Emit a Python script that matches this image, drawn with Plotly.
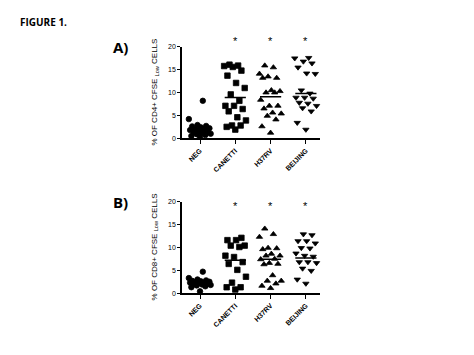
import plotly.graph_objects as go

categories = ["NEG", "CANETTI", "H37RV", "BEIJING"]
symbols = ["circle", "square", "triangle-up", "triangle-down"]

# Panel A: % of CD4+ CFSE low cells
a_neg = [8.2, 4.2, 2.9, 2.7, 2.6, 2.4, 2.2, 2.0, 2.0, 1.8, 1.6, 1.5, 1.4, 1.2, 1.0, 0.9, 0.7, 0.5, 0.3]
a_canetti = [16.1, 15.8, 15.6, 15.9, 14.8, 13.7, 12.1, 11.0, 9.6, 8.2, 7.1, 7.1, 6.4, 5.9, 4.6, 3.9, 2.8, 2.8, 2.5, 1.9]
a_h37rv = [15.9, 15.5, 13.5, 13.2, 13.2, 14.1, 10.5, 10.0, 10.0, 10.3, 8.4, 7.1, 7.1, 6.5, 5.6, 4.9, 4.1, 5.4, 2.6, 1.2]
a_beijing = [17.5, 17.6, 16.8, 16.4, 15.5, 14.1, 14.2, 10.5, 8.9, 8.7, 8.9, 9.8, 7.6, 7.8, 7.1, 6.6, 5.9, 3.4, 1.9]
a_medians = [2.0, 8.9, 9.1, 9.8]

# Panel B: % of CD8+ CFSE low cells
b_neg = [4.7, 3.3, 3.0, 2.8, 2.7, 2.6, 2.5, 2.4, 2.3, 2.3, 2.2, 2.1, 2.0, 1.9, 1.8, 1.7, 1.5, 1.3, 0.4]
b_canetti = [12.1, 11.6, 11.6, 10.4, 10.1, 10.4, 8.2, 7.9, 6.4, 6.8, 5.1, 3.6, 2.3, 1.3, 1.3, 0.8]
b_h37rv = [14.1, 12.9, 12.3, 9.6, 9.8, 9.9, 8.6, 8.2, 8.2, 7.5, 7.4, 6.4, 6.6, 6.3, 3.9, 2.7, 2.7, 2.1, 1.6, 1.1]
b_beijing = [12.7, 10.9, 11.4, 11.4, 12.9, 9.8, 9.9, 8.7, 8.0, 8.2, 6.8, 6.6, 6.8, 5.4, 4.9, 3.0, 2.1]
b_medians = [2.3, 7.2, 7.4, 7.7]

sig_a = ["", "*", "*", "*"]
sig_b = ["", "*", "*", "*"]
yticks = [0, 5, 10, 15, 20]

W, H = 474, 355
X0, X1 = 182, 320
PANELS = [(43.7, 137.0), (201.7, 295.0)]
XR = [-0.51, 3.4]
SIG_POS = [1.06, 0.955]


def spread(vals, width=0.32):
    # deterministic horizontal spread of points based on their rank
    order = sorted(range(len(vals)), key=lambda i: vals[i])
    res = [0.0] * len(vals)
    phi = 0.6180339887
    for r, i in enumerate(order):
        res[i] = ((r * phi + 0.5) % 1.0 - 0.5) * 2 * width
    return res


fig = go.Figure()

panels = [
    ([a_neg, a_canetti, a_h37rv, a_beijing], a_medians, sig_a,
     "% OF CD4+ CFSE <sub>Low</sub> CELLS", "A)"),
    ([b_neg, b_canetti, b_h37rv, b_beijing], b_medians, sig_b,
     "% OF CD8+ CFSE <sub>Low</sub> CELLS", "B)"),
]

for p, (groups, meds, sigs, ytitle, lab) in enumerate(panels):
    top, bot = PANELS[p]
    xa = "x" if p == 0 else "x2"
    ya = "y" if p == 0 else "y2"
    for g, vals in enumerate(groups):
        offs = spread(vals)
        fig.add_trace(go.Scatter(
            x=[g + o for o in offs], y=vals, mode="markers",
            marker=dict(symbol=symbols[g], size=5.5, color="black",
                        line=dict(width=0.8, color="black")),
            xaxis=xa, yaxis=ya, cliponaxis=False, showlegend=False))
        fig.add_trace(go.Scatter(
            x=[g - 0.3, g + 0.3], y=[meds[g], meds[g]], mode="lines",
            line=dict(color="black", width=1.5),
            xaxis=xa, yaxis=ya, cliponaxis=False, showlegend=False))
        if sigs[g]:
            fig.add_annotation(x=g, y=SIG_POS[p], xref=xa, yref=ya + " domain", text=sigs[g],
                               showarrow=False, xanchor="center", yanchor="middle",
                               font=dict(size=11, color="black", family="Liberation Sans"))
    # y-axis title
    fig.add_annotation(x=155 / W, y=1 - ((top + bot) / 2) / H, xref="paper", yref="paper",
                       xanchor="center", yanchor="middle",
                       text=ytitle, textangle=-90, showarrow=False,
                       font=dict(size=8, color="black", family="Liberation Sans"))
    fig.add_annotation(x=120 / W, y=1 - top / H, xref="paper", yref="paper",
                       xanchor="center", yanchor="middle",
                       text="<b>" + lab + "</b>", showarrow=False,
                       font=dict(size=15, color="black", family="Open Sans"))

fig.add_annotation(x=18 / W, y=1 - 18 / H, xref="paper", yref="paper", xanchor="left",
                   yanchor="middle",
                   text="<b>FIGURE 1.</b>", showarrow=False,
                   font=dict(size=10, color="black", family="Open Sans"))

axis_common = dict(showline=True, linecolor="black", linewidth=1.5, showgrid=False,
                   zeroline=False, ticks="outside", tickcolor="black", tickwidth=1.2)

for p in range(2):
    top, bot = PANELS[p]
    sx = "" if p == 0 else "2"
    fig.update_layout(**{
        "xaxis" + sx: dict(domain=[X0 / W, X1 / W], range=XR, tickvals=list(range(4)),
                           ticktext=["<b>" + c + "</b>" for c in categories],
                           tickangle=-45, ticklen=4, anchor="y" + sx,
                           tickfont=dict(size=7, color="black", family="Liberation Sans"),
                           **axis_common),
        "yaxis" + sx: dict(domain=[1 - bot / H, 1 - top / H], range=[0, 20], tickvals=yticks,
                           ticklen=3, anchor="x" + sx,
                           tickfont=dict(size=7, color="black", family="Liberation Sans"),
                           **axis_common),
    })

fig.update_layout(width=W, height=H, margin=dict(l=0, r=0, t=0, b=0),
                  paper_bgcolor="white", plot_bgcolor="white", showlegend=False)

fig.write_html("out.html", config={"displayModeBar": False},
               post_script="document.body.style.margin='0px';")
